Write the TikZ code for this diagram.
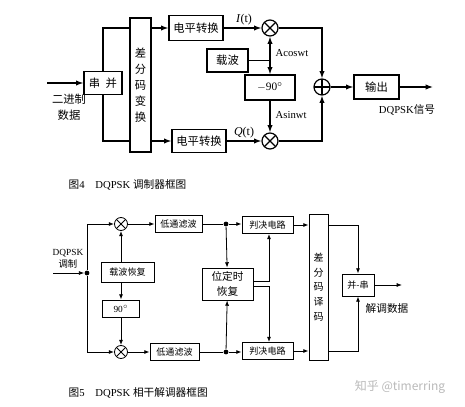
\documentclass[tikz,border=0pt]{standalone}
\usepackage{fontspec}
\setmainfont{Liberation Serif}
\newfontfamily\cjk{Noto Sans CJK SC}
\usetikzlibrary{calc}
\usetikzlibrary{arrows.meta}
\newcommand{\zh}[1]{{\cjk #1}}
\newcommand{\pxu}{0.75pt}
\tikzset{
  blk/.style={draw, inner sep=0pt, align=center},
  bsz/.style 2 args={minimum width=#1*\pxu, minimum height=#2*\pxu},
  upper/.style={line width=0.9pt, font=\cjk\fontsize{8.5}{12}\selectfont, >={Latex[length=5.5pt,width=4pt]}},
  lower/.style={line width=0.6pt, font=\cjk\fontsize{6.8}{10}\selectfont, >={Latex[length=4pt,width=3pt]}},
  mult/.style={draw, circle, minimum size=#1*\pxu, inner sep=0pt,
    path picture={
      \draw ($(path picture bounding box.center)!0.7071!(path picture bounding box.north east)$)
         -- ($(path picture bounding box.center)!0.7071!(path picture bounding box.south west)$);
      \draw ($(path picture bounding box.center)!0.7071!(path picture bounding box.north west)$)
         -- ($(path picture bounding box.center)!0.7071!(path picture bounding box.south east)$);
    }},
  summ/.style={draw, circle, minimum size=#1*\pxu, inner sep=0pt,
    path picture={
      \draw (path picture bounding box.north) -- (path picture bounding box.south);
      \draw (path picture bounding box.west) -- (path picture bounding box.east);
    }},
  dot/.style={circle, fill, inner sep=0pt, minimum size=3.6pt},
  lbl/.style={font=\fontsize{8}{10}\selectfont},
}
\begin{document}
\begin{tikzpicture}[x=0.75pt, y=-0.75pt]
  \useasboundingbox (0,0) rectangle (465,407);

  % modulator
  \begin{scope}[upper]
    \node[blk, bsz={38}{23}] (sp) at (103,83) {串\hspace{4pt}并};
    \node[blk, bsz={21}{134}] (diff) at (140.5,85) {差\\分\\码\\变\\换};
    \node[blk, bsz={54}{25}] (lvl1) at (196,28) {电平转换};
    \node[blk, bsz={54}{23}] (lvl2) at (199,141) {电平转换};
    \node[blk, bsz={41}{23}] (carrier) at (227.5,60.5) {载波};
    \node[blk, bsz={50}{25}, font=\fontsize{8.5}{10}\selectfont] (shift) at (270,87.5) {$-$90$^\circ$};
    \node[mult=16] (mixI) at (270,28) {};
    \node[mult=16] (mixQ) at (270,141) {};
    \node[summ=16] (add) at (322,87) {};
    \node[blk, bsz={45}{24}] (out) at (376.5,87) {输出};
    \coordinate (in1) at (47,83);
    \coordinate (o1) at (433,87);
    \coordinate (cj) at (mixI |- carrier.east);

    \draw[->] (in1) -- (sp.west);
    \draw (sp.north) |- (diff.west |- lvl1.west);
    \draw (sp.south) |- (diff.west |- lvl2.west);
    \draw[->] (diff.east |- lvl1.west) -- (lvl1.west);
    \draw[->] (diff.east |- lvl2.west) -- (lvl2.west);
    \draw[->] (lvl1) -- (mixI);
    \draw[->] (lvl2) -- (mixQ);
    \draw (carrier.east) -- (cj);
    \draw[->] (cj) -- (mixI);
    \draw[->] (cj) -- (shift.north);
    \draw[->] (shift) -- (mixQ);
    \draw[->] (mixI) -| (add);
    \draw[->] (mixQ) -| (add);
    \draw[->] (add) -- (out);
    \draw[->] (out) -- (o1);
  \end{scope}
  \node[align=center, font=\cjk\fontsize{8.5}{12}\selectfont] (bin) at (69,107) {二进制\\数据};
  \node[lbl, font=\fontsize{9}{10}\selectfont] (ilab) at (244,20) {\textit{I}(t)};
  \node[lbl, font=\fontsize{9}{10}\selectfont] (qlab) at (244,133) {\textit{Q}(t)};
  \node[lbl, anchor=west] (acos) at (271,53) {Acoswt};
  \node[lbl, anchor=west] (asin) at (271,115) {Asinwt};
  \node[lbl] (dqo) at (407,110) {DQPSK\zh{信号}};
  \node[lbl, anchor=west] (cap4) at (64,185) {\zh{图}4\quad DQPSK \zh{调制器框图}};

  % demodulator
  \begin{scope}[lower]
    \node[dot] (jn) at (87,273) {};
    \node[mult=13] (dmix1) at (121,224) {};
    \node[mult=13] (dmix2) at (121,352) {};
    \node[blk, bsz={53}{20}] (rec) at (127.5,272) {载波恢复};
    \node[blk, bsz={37}{17}, font=\fontsize{7}{9}\selectfont] (ph) at (121,308.5) {90$^\circ$};
    \node[blk, bsz={47}{17}] (lpf1) at (178.5,224) {低通滤波};
    \node[blk, bsz={49}{17}] (lpf2) at (174.5,352) {低通滤波};
    \node[dot] (j1) at (226,224) {};
    \node[dot] (j2) at (226,352) {};
    \node[blk, bsz={51}{32}, font=\cjk\fontsize{8}{11}\selectfont] (tim) at (227.5,284) {位定时\\恢复};
    \node[blk, bsz={51}{17}] (dec1) at (267.5,225) {判决电路};
    \node[blk, bsz={51}{17}] (dec2) at (267.5,351) {判决电路};
    \node[blk, bsz={19}{146}, font=\cjk\fontsize{7.5}{11}\selectfont] (ddec) at (318.5,287) {差\\分\\码\\译\\码};
    \node[blk, bsz={32}{22}] (ps) at (358,285) {并-串};
    \coordinate (din) at (53,273);
    \coordinate (pout) at (402,285);

    \draw[->] (din) -- (jn);
    \draw[->] (jn) |- (dmix1);
    \draw[->] (jn) |- (dmix2);
    \draw[->] (rec.north -| dmix1) -- (dmix1);
    \draw[->] (rec.south -| dmix1) -- (ph);
    \draw[->] (ph) -- (dmix2);
    \draw[->] (dmix1) -- (lpf1);
    \draw[->] (dmix2) -- (lpf2);
    \draw (lpf1) -- (j1);
    \draw (lpf2) -- (j2);
    \draw[->] (j1) -- (dec1.west |- j1);
    \draw[->] (j2) -- (dec2.west |- j2);
    \draw[->] (j1) -- (tim);
    \draw[->] (j2) -- (tim);
    \draw[->] ([yshift=3*\pxu]tim.east) -| ([xshift=1.5*\pxu]dec1.south);
    \draw[->] ([yshift=-2.5*\pxu]tim.east) -| ([xshift=1.5*\pxu]dec2.north);
    \draw[->] (dec1) -- (ddec.west |- dec1);
    \draw[->] (dec2) -- (ddec.west |- dec2);
    \draw[->] (ddec.east |- dec1) -| (ps);
    \draw[->] (ddec.east |- dec2) -| (ps);
    \draw[->] (ps) -- (pout);
  \end{scope}
  \node[align=center, font=\fontsize{7}{9}\selectfont] (dqi) at (68,259) {DQPSK\\\zh{调制}};
  \node[font=\cjk\fontsize{8}{10}\selectfont] (dem) at (387,308) {解调数据};
  \node[lbl, anchor=west] (cap5) at (64,393) {\zh{图}5\quad DQPSK \zh{相干解调器框图}};
  \node[font=\cjk\fontsize{9}{10}\selectfont, text=gray!55] (wm) at (400,387) {知乎 @timerring};
\end{tikzpicture}
\end{document}
